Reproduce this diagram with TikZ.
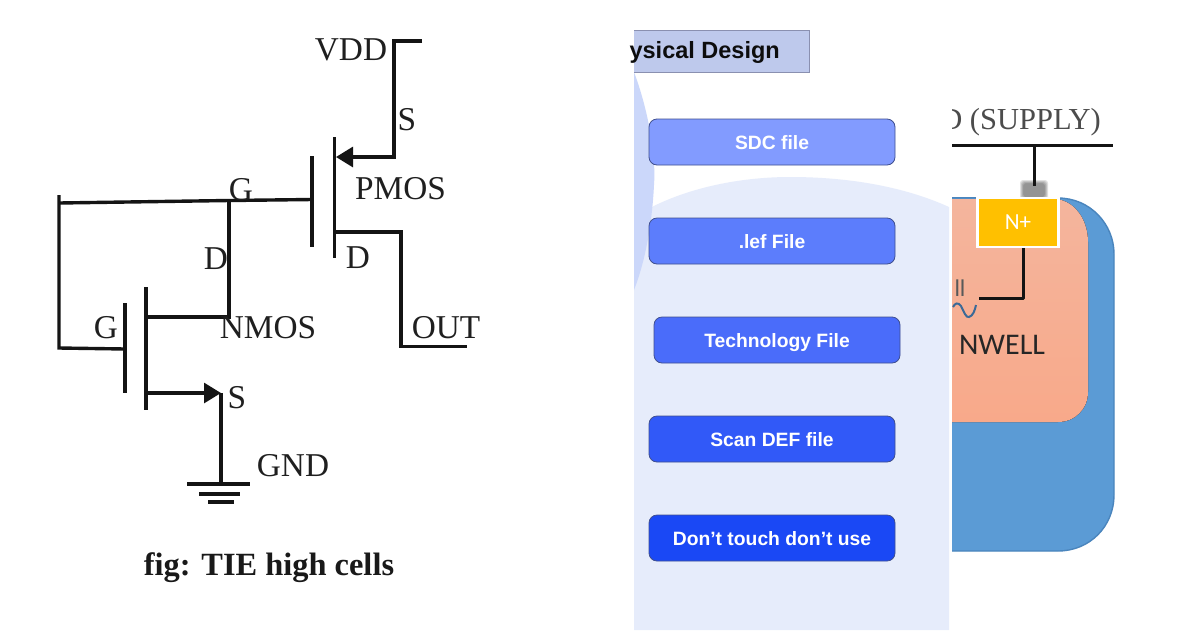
\documentclass[tikz,border=0pt]{standalone}
\usepackage{fontspec}
\setmainfont{Liberation Serif}
\newfontfamily\uisans{Liberation Sans}
\newfontfamily\slidesans{Carlito}
\usetikzlibrary{arrows.meta}
\definecolor{panel}{HTML}{E6ECFB}
\definecolor{circ}{HTML}{CBD7FA}
\definecolor{titlefill}{HTML}{BEC9EC}
\definecolor{titleedge}{HTML}{8A90B0}
\definecolor{boxedge}{HTML}{3F4F8F}
\definecolor{wellblue}{HTML}{5B9BD5}
\definecolor{welledge}{HTML}{4A85BD}
\definecolor{salmontop}{HTML}{F4B59D}
\definecolor{salmonbot}{HTML}{F8A98A}
\definecolor{nplus}{HTML}{FFC000}
\tikzset{
  x=1pt,y=-1pt,
  wire/.style={line width=3.4pt,line cap=butt,line join=miter,black!92},
  arrowwire/.style={line width=3pt,line cap=butt,black!92,-{Triangle[length=17pt,width=20pt]}},
  schem/.style={font=\fontsize{33.3}{33}\selectfont,text=black!88,inner sep=0pt,yshift=-1pt},
  capt/.style={font=\fontsize{32.4}{32}\selectfont\bfseries,text=black!90,inner sep=0pt},
  filebox/.style={draw=boxedge,line width=.8pt,rounded corners=8pt,minimum width=246pt,minimum height=46pt,inner sep=0pt,text height=14pt,text depth=0pt,text=white,font=\uisans\bfseries\fontsize{19.3}{20}\selectfont},
}
\begin{document}
\begin{tikzpicture}
\useasboundingbox (0,0) rectangle (1200,630);
\fill[white] (0,0) rectangle (1200,630);
% --- left schematic
\coordinate (vddend) at (422,41);
\coordinate (vddc) at (394,41);
\coordinate (ps) at (394,157);
\coordinate (pch) at (336,157);
\coordinate (pg) at (312,199.5);
\coordinate (jn) at (229,200.5);
\coordinate (fbt) at (59,203);
\coordinate (fbb) at (59,348);
\coordinate (ng) at (125,349);
\coordinate (nd) at (146,317);
\coordinate (ndj) at (229,317);
\coordinate (ns) at (146,393);
\coordinate (nst) at (221,393);
\coordinate (gnd) at (221,484);
\coordinate (pd) at (335,232);
\coordinate (pdc) at (401,232);
\coordinate (outc) at (401,346.5);
\coordinate (outend) at (467,346.5);
\draw[wire] (vddend) -- (vddc) -- (ps) -- (350,157);
\draw[arrowwire] (356,157) -- (pch);
\draw[wire] (334.5,137) -- (334.5,258);
\draw[wire] (312,156) -- (312,247);
\draw[wire] (pg) -- (jn) -- (fbt);
\draw[wire] (59,195) -- (fbb) -- (ng);
\draw[wire] (jn) -- (ndj) -- (nd);
\draw[wire] (125,303) -- (125,393);
\draw[wire] (146,287) -- (146,410);
\draw[wire] (ns) -- (206,393);
\draw[arrowwire] (204,393) -- (nst);
\draw[wire] (nst) -- (gnd);
\draw[wire] (187,484) -- (250,484);
\draw[wire] (199,494) -- (240,494);
\draw[wire] (208,502) -- (234,502);
\draw[wire] (pd) -- (pdc) -- (outc) -- (outend);
\node[schem] (lvdd) at (351,49) {VDD};
\node[schem] (ls1) at (407,119) {S};
\node[schem] (lpmos) at (400.5,188) {PMOS};
\node[schem] (lg1) at (241,189) {G};
\node[schem] (ld1) at (216,258) {D};
\node[schem] (ld2) at (358,257) {D};
\node[schem] (lnmos) at (268,327) {NMOS};
\node[schem] (lg2) at (106,327) {G};
\node[schem] (lout) at (446,327) {OUT};
\node[schem] (ls2) at (237,397) {S};
\node[schem] (lgnd) at (293,465) {GND};
\node[capt] (lcap) at (269,568) {fig: TIE high cells};
% --- middle panel
\begin{scope}
\clip (634,0) rectangle (949,630);
\fill[panel] (634,217) .. controls (680,188) and (740,177) .. (790,177) .. controls (850,177) and (905,187) .. (949,207) -- (949,630) -- (634,630) -- cycle;
\fill[circ] (634,72) .. controls (650,115) and (656,160) .. (654,185) .. controls (652,225) and (645,262) .. (634,290) -- cycle;
\end{scope}
\fill[titlefill,draw=titleedge,line width=.8pt] (634,30) -- (809,30) -- (809,72) -- (634,72);
\node[inner sep=0pt,anchor=east,font=\uisans\bfseries\fontsize{23.5}{24}\selectfont,text=black!95] (ttl) at (780,52.5) {ysical Design};
\node[filebox,fill={rgb,255:red,130;green,155;blue,255}] (f1) at (772,142) {SDC file};
\node[filebox,fill={rgb,255:red,92;green,125;blue,252}] (f2) at (772,241) {.lef File};
\node[filebox,fill={rgb,255:red,74;green,108;blue,250}] (f3) at (777,340) {Technology File};
\node[filebox,fill={rgb,255:red,49;green,89;blue,248}] (f4) at (772,439) {Scan DEF file};
\node[filebox,fill={rgb,255:red,26;green,72;blue,245}] (f5) at (772,538) {Don’t touch don’t use};
% --- right cut-away
\begin{scope}
\clip (952,0) rectangle (1200,630);
\fill[wellblue,draw=welledge,line width=1.4pt] (900,198) -- (1058,198) .. controls (1090,198) and (1114,224) .. (1114,254) -- (1114,495) .. controls (1114,526) and (1090,551) .. (1058,551) -- (900,551) -- cycle;
\fill[top color=salmontop,bottom color=salmonbot] (900,199) -- (1056,199) .. controls (1075,201) and (1088,220) .. (1088,242) -- (1088,392) .. controls (1088,409) and (1075,422) .. (1058,422) -- (900,422) -- cycle;
\draw[welledge,line width=1.4pt] (952,197.5) -- (977,197.5);
\node[inner sep=0pt,anchor=east,font=\fontsize{30.5}{31}\selectfont,text=black!70] (sup) at (1101,122) {D (SUPPLY)};
\end{scope}
\foreach \g in {3,2,1,0}{\fill[black,opacity=.12,rounded corners=3pt] (1023-\g,183-\g) rectangle (1045+\g,197+\g);}
\fill[black!42,rounded corners=2pt] (1024,184) rectangle (1044,197);
\node[draw=white,line width=2.4pt,fill=nplus,minimum width=81pt,minimum height=49pt,inner sep=0pt,text=white,font=\slidesans\fontsize{23}{23}\selectfont] (np) at (1018,222.5) {N+};
\draw[black!92,line width=3pt] (952,145) -- (1113,145);
\draw[black!92,line width=3pt] (1034,145) -- (1034,186);
\draw[black!92,line width=3pt,line join=round] (np.south -| 1023,0) -- (1023,298) -- (979,298);
\begin{scope}
\clip (952,0) rectangle (1000,630);
\draw[welledge!80!black,line width=2pt] (953,307) .. controls (955,303) and (958,302) .. (961,306) .. controls (964,312) and (966,318) .. (969,317) .. controls (973,316) and (975,310) .. (976,305);
\node[inner sep=0pt,font=\slidesans\fontsize{24}{24}\selectfont,text=black!65] (ell) at (960,288) {ll};
\end{scope}
\node[inner sep=0pt,font=\slidesans\fontsize{30}{30}\selectfont,text=black!85] (nw) at (1002,345) {NWELL};
\end{tikzpicture}
\end{document}
